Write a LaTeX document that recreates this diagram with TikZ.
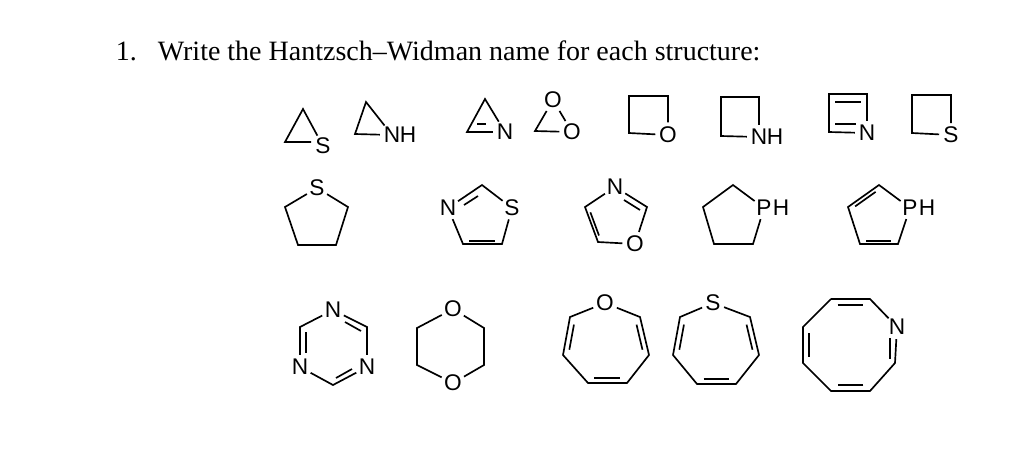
\documentclass[tikz,border=0pt]{standalone}
\usepackage{fontspec}
\setmainfont{Liberation Sans}
\newfontfamily\titlefont{Liberation Serif}
\usetikzlibrary{calc}
\newcommand\dbl[3]{\draw ($(#1)!0.12!(#2)!0.13!(#3)$) -- ($(#2)!0.12!(#1)!0.13!(#3)$);}
\begin{document}
\begin{tikzpicture}[x=0.75pt,y=-0.75pt,line width=1.25pt,
  het/.style={circle,inner sep=0pt,minimum size=14pt,font=\fontsize{17}{20}\selectfont},
  hyd/.style={inner sep=0pt,font=\fontsize{17}{20}\selectfont},
  ttl/.style={anchor=base west,inner sep=0pt,font=\titlefont\fontsize{21}{25}\selectfont}]
\useasboundingbox (0,0) rectangle (1024,472);
\node[ttl] (t1) at (115,60) {1.};
\node[ttl] (t2) at (157,60) {Write the Hantzsch–Widman name for each structure:};
% thiirane
\coordinate (a1) at (303,109); \coordinate (a2) at (285,142); \coordinate (a3) at (311,142);
\node[het] (s1) at (323,146) {S};
\draw (a3) -- (a2) -- (a1) -- (s1);
% aziridine
\coordinate (b1) at (366,102); \coordinate (b2) at (355,134);
\node[het] (n2) at (392,135) {N}; \node[hyd] (h2) at (408,135) {H};
\draw (n2) -- (b2) -- (b1) -- (n2);
% azirine
\coordinate (c1) at (485,99); \coordinate (c2) at (467,132);
\node[het] (n3) at (505,132) {N};
\draw (n3) -- (c2) -- (c1) -- (n3);
\draw (477,124) -- (486,124);
% dioxirane
\coordinate (d1) at (535,131);
\node[het] (o4a) at (553,100) {O}; \node[het] (o4b) at (572,132) {O};
\draw (o4a) -- (d1) -- (o4b) -- (o4a);
% oxetane
\coordinate (e1) at (629,96); \coordinate (e2) at (668,96); \coordinate (e3) at (629,133);
\node[het] (o5) at (668,135) {O};
\draw (o5) -- (e2) -- (e1) -- (e3) -- (o5);
% azetidine
\coordinate (f1) at (721,97); \coordinate (f2) at (759,97); \coordinate (f3) at (721,136);
\node[het] (n6) at (759,137) {N}; \node[hyd] (h6) at (775,137) {H};
\draw (n6) -- (f2) -- (f1) -- (f3) -- (n6);
% azete
\coordinate (g1) at (829,94); \coordinate (g2) at (867,94); \coordinate (g3) at (829,132);
\node[het] (n7) at (867,133) {N};
\draw (n7) -- (g2) -- (g1) -- (g3) -- (n7);
\draw (835,102) -- (861,102); \draw (835,124) -- (856,124);
% thietane
\coordinate (k1) at (912,95); \coordinate (k2) at (951,95); \coordinate (k3) at (912,133);
\node[het] (s8) at (951,135) {S};
\draw (s8) -- (k2) -- (k1) -- (k3) -- (s8);
% thiolane
\node[het] (s9) at (317,188) {S};
\coordinate (l1) at (285,207); \coordinate (l2) at (298,245); \coordinate (l3) at (336,245); \coordinate (l4) at (348,207);
\draw (s9) -- (l1) -- (l2) -- (l3) -- (l4) -- (s9);
% thiazole
\node[het] (n10) at (448,208) {N}; \node[het] (s10) at (512,208) {S};
\coordinate (m1) at (482,185); \coordinate (m2) at (463,244); \coordinate (m3) at (502,244); \coordinate (mc) at (481,221);
\draw (n10) -- (m1) -- (s10) -- (m3) -- (m2) -- (n10);
\draw (464,205) -- (478,196); \dbl{m2}{m3}{mc}
% oxazole
\node[het] (n11) at (615,187) {N}; \node[het] (o11) at (635,244) {O};
\coordinate (p1) at (585,207); \coordinate (p2) at (598,242); \coordinate (p3) at (647,207); \coordinate (pc) at (616,220);
\draw (n11) -- (p1) -- (p2) -- (o11) -- (p3) -- (n11);
\dbl{p1}{p2}{pc} \draw (624,200) -- (640,210);
% phospholane
\node[het] (p12) at (764,208) {P}; \node[hyd] (h12) at (781,208) {H};
\coordinate (q1) at (733,185); \coordinate (q2) at (703,207); \coordinate (q3) at (714,244); \coordinate (q4) at (753,244);
\draw (p12) -- (q1) -- (q2) -- (q3) -- (q4) -- (p12);
% phosphole
\node[het] (p13) at (910,208) {P}; \node[hyd] (h13) at (927,208) {H};
\coordinate (r1) at (879,185); \coordinate (r2) at (848,207); \coordinate (r3) at (860,244); \coordinate (r4) at (898,244); \coordinate (rc) at (878,220);
\draw (p13) -- (r1) -- (r2) -- (r3) -- (r4) -- (p13);
\dbl{r1}{r2}{rc} \dbl{r3}{r4}{rc}
% triazine
\node[het] (n14a) at (333,310) {N}; \node[het] (n14b) at (300,367) {N}; \node[het] (n14c) at (367,367) {N};
\coordinate (u1) at (300,327); \coordinate (u2) at (367,327); \coordinate (u3) at (333,385); \coordinate (uc) at (333,348);
\draw (n14a) -- (u2) -- (n14c) -- (u3) -- (n14b) -- (u1) -- (n14a);
\draw (345,322) -- (361,331); \draw (306,332) -- (306,353); \draw (336,378) -- (352,369);
% dioxane
\node[het] (o15a) at (453,309) {O}; \node[het] (o15b) at (453,383) {O};
\coordinate (v1) at (417,328); \coordinate (v2) at (417,365); \coordinate (v3) at (484,328); \coordinate (v4) at (484,365);
\draw (o15a) -- (v1) -- (v2) -- (o15b) -- (v4) -- (v3) -- (o15a);
% oxepine
\node[het] (o16) at (605,303) {O};
\coordinate (w1) at (570,317); \coordinate (w2) at (563,355); \coordinate (w3) at (588,383); \coordinate (w4) at (627,383); \coordinate (w5) at (649,355); \coordinate (w6) at (640,317); \coordinate (wc) at (606,345);
\draw (o16) -- (w1) -- (w2) -- (w3) -- (w4) -- (w5) -- (w6) -- (o16);
\dbl{w1}{w2}{wc} \dbl{w3}{w4}{wc} \dbl{w5}{w6}{wc}
% thiepine
\node[het] (s17) at (713,303) {S};
\coordinate (x1) at (680,317); \coordinate (x2) at (673,355); \coordinate (x3) at (697,384); \coordinate (x4) at (736,384); \coordinate (x5) at (759,355); \coordinate (x6) at (750,317); \coordinate (xc) at (716,345);
\draw (s17) -- (x1) -- (x2) -- (x3) -- (x4) -- (x5) -- (x6) -- (s17);
\dbl{x1}{x2}{xc} \dbl{x3}{x4}{xc} \dbl{x5}{x6}{xc}
% azocine
\node[het] (n18) at (897,327) {N};
\coordinate (y1) at (831,299); \coordinate (y2) at (870,299); \coordinate (y3) at (895,363); \coordinate (y4) at (870,391);
\coordinate (y5) at (831,391); \coordinate (y6) at (803,363); \coordinate (y7) at (803,327); \coordinate (yc) at (850,345);
\draw (y1) -- (y2) -- (n18) -- (y3) -- (y4) -- (y5) -- (y6) -- (y7) -- (y1);
\dbl{y1}{y2}{yc} \dbl{y4}{y5}{yc} \dbl{y6}{y7}{yc}
\draw (890,338) -- (890,359);
\end{tikzpicture}
\end{document}
